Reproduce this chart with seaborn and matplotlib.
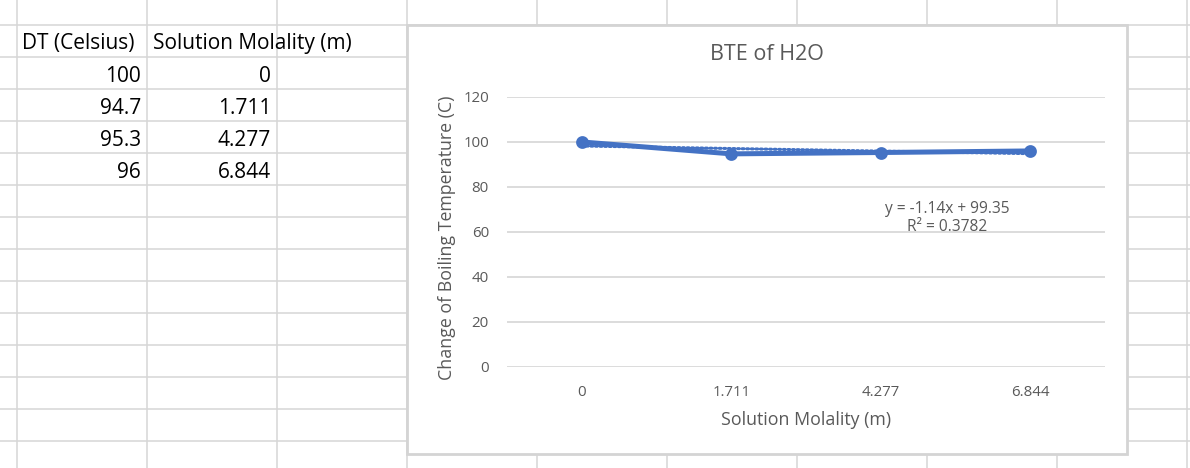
import numpy as np
import pandas as pd
import matplotlib
matplotlib.use("Agg")
import matplotlib.pyplot as plt
from matplotlib.patches import Rectangle
import seaborn as sns

# ---- data ----
dt_celsius = [100, 94.7, 95.3, 96]
molality_labels = ["0", "1.711", "4.277", "6.844"]
header_a = "DT (Celsius)"
header_b = "Solution Molality (m)"
chart_title = "BTE of H2O"
x_label = "Solution Molality (m)"
y_label = "Change of Boiling Temperature (C)"
y_ticks = [0, 20, 40, 60, 80, 100, 120]

sns.set_theme(style="white")
plt.rcParams['font.family'] = ['Open Sans', 'DejaVu Sans']

W, H = 1190, 468
fig = plt.figure(figsize=(W / 100, H / 100), dpi=100)

# ---- spreadsheet background ----
bg = fig.add_axes([0, 0, 1, 1])
bg.set_xlim(0, W)
bg.set_ylim(H, 0)
bg.axis("off")
grid_c = "#d6d6d6"
for k in range(15):
    y = 25 + 32 * k
    bg.plot([0, W], [y, y], color=grid_c, lw=1.1, zorder=1)
for k in range(10):
    x = 17 + 130 * k
    bg.plot([x, x], [0, H], color=grid_c, lw=1.1, zorder=1)

cell_fs = 15
bg.text(22, 44, header_a, fontsize=cell_fs, color="black", va="center", ha="left", zorder=2)
bg.text(153, 44, header_b, fontsize=cell_fs, color="black", va="center", ha="left", zorder=2)
for i, (a, b) in enumerate(zip(dt_celsius, molality_labels)):
    yc = 76 + 32 * i
    bg.text(141, yc, f"{a:g}", fontsize=cell_fs, color="black", va="center", ha="right", zorder=2)
    bg.text(271, yc, b, fontsize=cell_fs, color="black", va="center", ha="right", zorder=2)

# chart area frame
bg.add_patch(Rectangle((407, 25), 1127 - 407, 454 - 25, facecolor="white",
                       edgecolor="#d4d4d4", lw=2.0, zorder=3))

# ---- chart ----
ax = fig.add_axes([507 / W, 1 - 366.7 / H, (1105 - 507) / W, (366.7 - 97) / H])
ax.set_facecolor("white")
df = pd.DataFrame({"molality": molality_labels, "dt": dt_celsius})
blue = "#4472C4"
text_c = "#595959"

for yt in y_ticks:
    ax.axhline(yt, color="#d9d9d9", lw=1.3, zorder=0)

sns.pointplot(data=df, x="molality", y="dt", order=molality_labels, color=blue,
              errorbar=None, markers="o", markersize=6.5, linewidth=3.6, ax=ax, zorder=3)

# linear trendline (category index as x, like Excel)
xi = np.arange(1, len(dt_celsius) + 1)
slope, intercept = np.polyfit(xi, dt_celsius, 1)
fit = slope * xi + intercept
r2 = 1 - np.sum((np.array(dt_celsius) - fit) ** 2) / np.sum((np.array(dt_celsius) - np.mean(dt_celsius)) ** 2)
ax.plot(xi - 1, fit, linestyle=(0, (0.6, 0.9)), color=blue, lw=2.2, zorder=4,
        dash_capstyle="round")
ax.text(2.443, 66.2, f"y = {slope:.2f}x + {intercept:.2f}\nR² = {r2:.4f}",
        ha="center", va="center", fontsize=11.2, color=text_c, linespacing=1.15)

ax.set_xlim(-0.5, 3.5)
ax.set_ylim(0, 120)
ax.set_yticks(y_ticks)
ax.tick_params(axis="both", length=0, labelsize=10.8, labelcolor=text_c)
ax.tick_params(axis="x", pad=13)
ax.tick_params(axis="y", pad=13)
for s in ax.spines.values():
    s.set_visible(False)
ax.set_xlabel(x_label, fontsize=12.8, color=text_c)
ax.set_ylabel(y_label, fontsize=12.8, color=text_c)
ax.xaxis.set_label_coords(0.5, -0.198)
ax.yaxis.set_label_coords(-0.1003, 0.477)
ax.xaxis.label.set_va("center")
ax.yaxis.label.set_va("center")

fig.text(767 / W, 1 - 55 / H, chart_title, ha="center", va="center", fontsize=15.5, color=text_c)

fig.savefig("out.png", dpi=100)
